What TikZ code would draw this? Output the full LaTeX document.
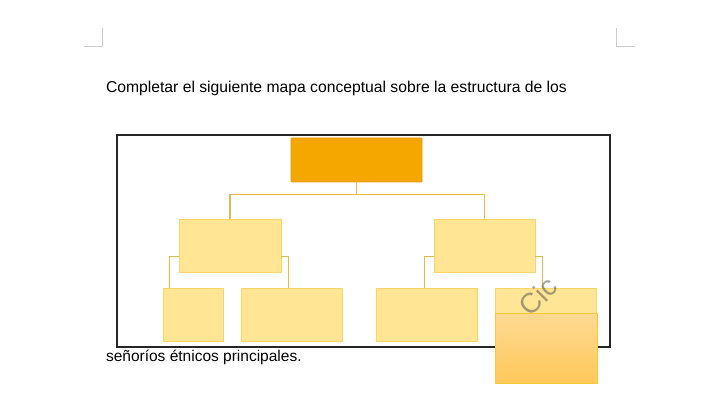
\documentclass[tikz,border=0pt]{standalone}
\usepackage{fontspec}
\setmainfont{Liberation Sans}
\usetikzlibrary{calc}

\definecolor{topfill}{HTML}{F5A700}
\definecolor{topline}{HTML}{E29A00}
\definecolor{boxfill}{HTML}{FFE594}
\definecolor{boxline}{HTML}{F8D565}
\definecolor{linkcol}{HTML}{E8B949}
\definecolor{pastetop}{HTML}{FFD993}
\definecolor{pastebot}{HTML}{FFC85A}
\definecolor{pasteline}{HTML}{F6CB3A}

\begin{document}
\begin{tikzpicture}[x=1pt,y=-1pt,
  box/.style={draw=boxline,fill=boxfill,line width=0.8pt,minimum height=53pt,inner sep=0pt},
  link/.style={linkcol,line width=1.5pt},
  cornermark/.style={black!20,line width=0.9pt}]

\useasboundingbox (0,0) rectangle (719,419);

% page corners
\coordinate (TL) at (102,46);
\coordinate (TR) at (616,46);
\draw[cornermark] (84,46) -- (TL) -- (102,28);
\draw[cornermark] (635,46) -- (TR) -- (616,28);

\node[anchor=base west,font=\fontsize{15.7}{18}\selectfont] (Q1) at (102.5,93) {Completar el siguiente mapa conceptual sobre la estructura de los};
\node[anchor=base west,font=\fontsize{15.5}{18}\selectfont] (Q2) at (102.5,361) {señoríos étnicos principales.};

% frame
\draw[black!85,line width=1.3pt] (117,135) rectangle (610,347);

% boxes
\node[draw=topline,fill=topfill,rounded corners=1pt,line width=0.8pt,minimum width=131pt,minimum height=44pt,inner sep=0pt] (T) at (356.5,160) {};
\node[box,minimum width=102pt] (L) at (230,245.5) {};
\node[box,minimum width=101pt] (R) at (484.5,245.5) {};
\node[box,minimum width=60pt] (B1) at (193,314.5) {};
\node[box,minimum width=101pt] (B2) at (291.5,314.5) {};
\node[box,minimum width=101pt] (B3) at (426.5,314.5) {};
\node[box,minimum width=101pt] (B4) at (545.5,314.5) {};

% links
\draw[link] (T.south) -- ++(0,12) -| (L.north);
\draw[link] (T.south) -- ++(0,12) -| (R.north);
\draw[link] ([yshift=16pt]L.south west) -| ([xshift=7pt]B1.north west);
\draw[link] ([yshift=16pt]L.south east) -| ([xshift=48pt]B2.north west);
\draw[link] ([yshift=16pt]R.south west) -| ([xshift=49pt]B3.north west);
\draw[link] ([yshift=16pt]R.south east) -| ([xshift=48pt]B4.north west);

% watermark
\node[rotate=45,text=black!70,opacity=0.5,font=\fontsize{28}{28}\selectfont] (W) at (538,296) {Cic};

% pasted box
\shade[top color=pastetop,bottom color=pastebot] (495,313) rectangle (597,383);
\node[draw=pasteline,line width=1pt,minimum width=102pt,minimum height=70pt,inner sep=0pt] (P) at (546,348) {};

\end{tikzpicture}
\end{document}
